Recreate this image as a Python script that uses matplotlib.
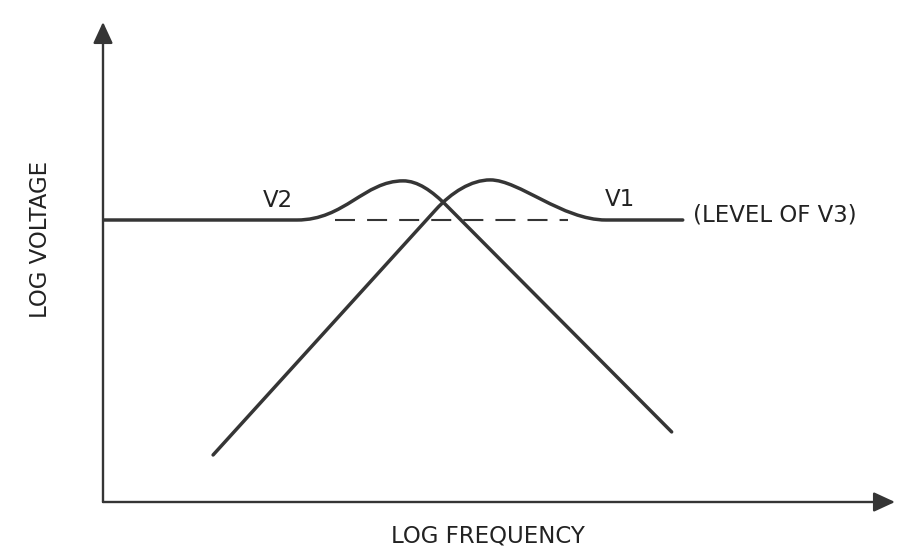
import matplotlib.pyplot as plt
from matplotlib.path import Path
from matplotlib.patches import PathPatch

# log frequency (x) / log voltage (y), arbitrary units
# each curve: straight runs joined by cubic bezier bumps (knot, ctrl, ctrl, knot ...)
v2_pts = [(0.0, 5.875), (2.45, 5.875),
          (3.05, 5.875), (3.30, 6.69), (3.79, 6.69),
          (3.97, 6.69), (4.15, 6.49), (4.35, 6.156),
          (7.18, 1.46)]
v2_codes = ["M", "L", "C", "C", "C", "C", "C", "C", "L"]

v1_pts = [(1.39, 0.98), (4.20, 6.086),
          (4.40, 6.45), (4.65, 6.71), (4.89, 6.71),
          (5.25, 6.71), (5.80, 5.875), (6.35, 5.875),
          (7.32, 5.875)]
v1_codes = ["M", "L", "C", "C", "C", "C", "C", "C", "L"]

v3_x = [2.93, 5.87]
v3_y = [5.875, 5.875]

ink = "#353535"
txt = "#222222"
code_map = {"M": Path.MOVETO, "L": Path.LINETO, "C": Path.CURVE4}


def curve(pts, codes):
    return PathPatch(Path(pts, [code_map[c] for c in codes]), facecolor="none",
                     edgecolor=ink, lw=2.5, joinstyle="round", capstyle="round")


fig = plt.figure(figsize=(9.16, 5.56), dpi=100)
ax = fig.add_axes([103 / 916, 54 / 556, 792 / 916, 480 / 556])
ax.set_xlim(0, 10)
ax.set_ylim(0, 10)
ax.axis("off")

ax.add_patch(curve(v2_pts, v2_codes))
ax.add_patch(curve(v1_pts, v1_codes))
ax.plot(v3_x, v3_y, color=ink, lw=1.5, linestyle=(0, (9.6, 5.8)))

# axes with arrow heads
arrow = dict(arrowstyle="-|>,head_length=1.3,head_width=0.6",
             color=ink, lw=1.7, shrinkA=0, shrinkB=0)
ax.annotate("", xy=(10, 0), xytext=(0, 0), annotation_clip=False, arrowprops=arrow)
ax.annotate("", xy=(0, 10), xytext=(0, 0), annotation_clip=False, arrowprops=arrow)

fs = 16.5
ax.text(2.21, 6.29, "V2", fontsize=fs, color=txt, ha="center", va="center")
ax.text(6.53, 6.31, "V1", fontsize=fs, color=txt, ha="center", va="center")
ax.text(7.45, 5.98, "(LEVEL OF V3)", fontsize=fs, color=txt, ha="left", va="center")
ax.text(4.86, -0.71, "LOG FREQUENCY", fontsize=fs, color=txt, ha="center", va="center",
        clip_on=False)
ax.text(-0.795, 5.48, "LOG VOLTAGE", fontsize=fs, color=txt, ha="center", va="center",
        rotation=90, clip_on=False)

plt.savefig("out.png", dpi=100)
